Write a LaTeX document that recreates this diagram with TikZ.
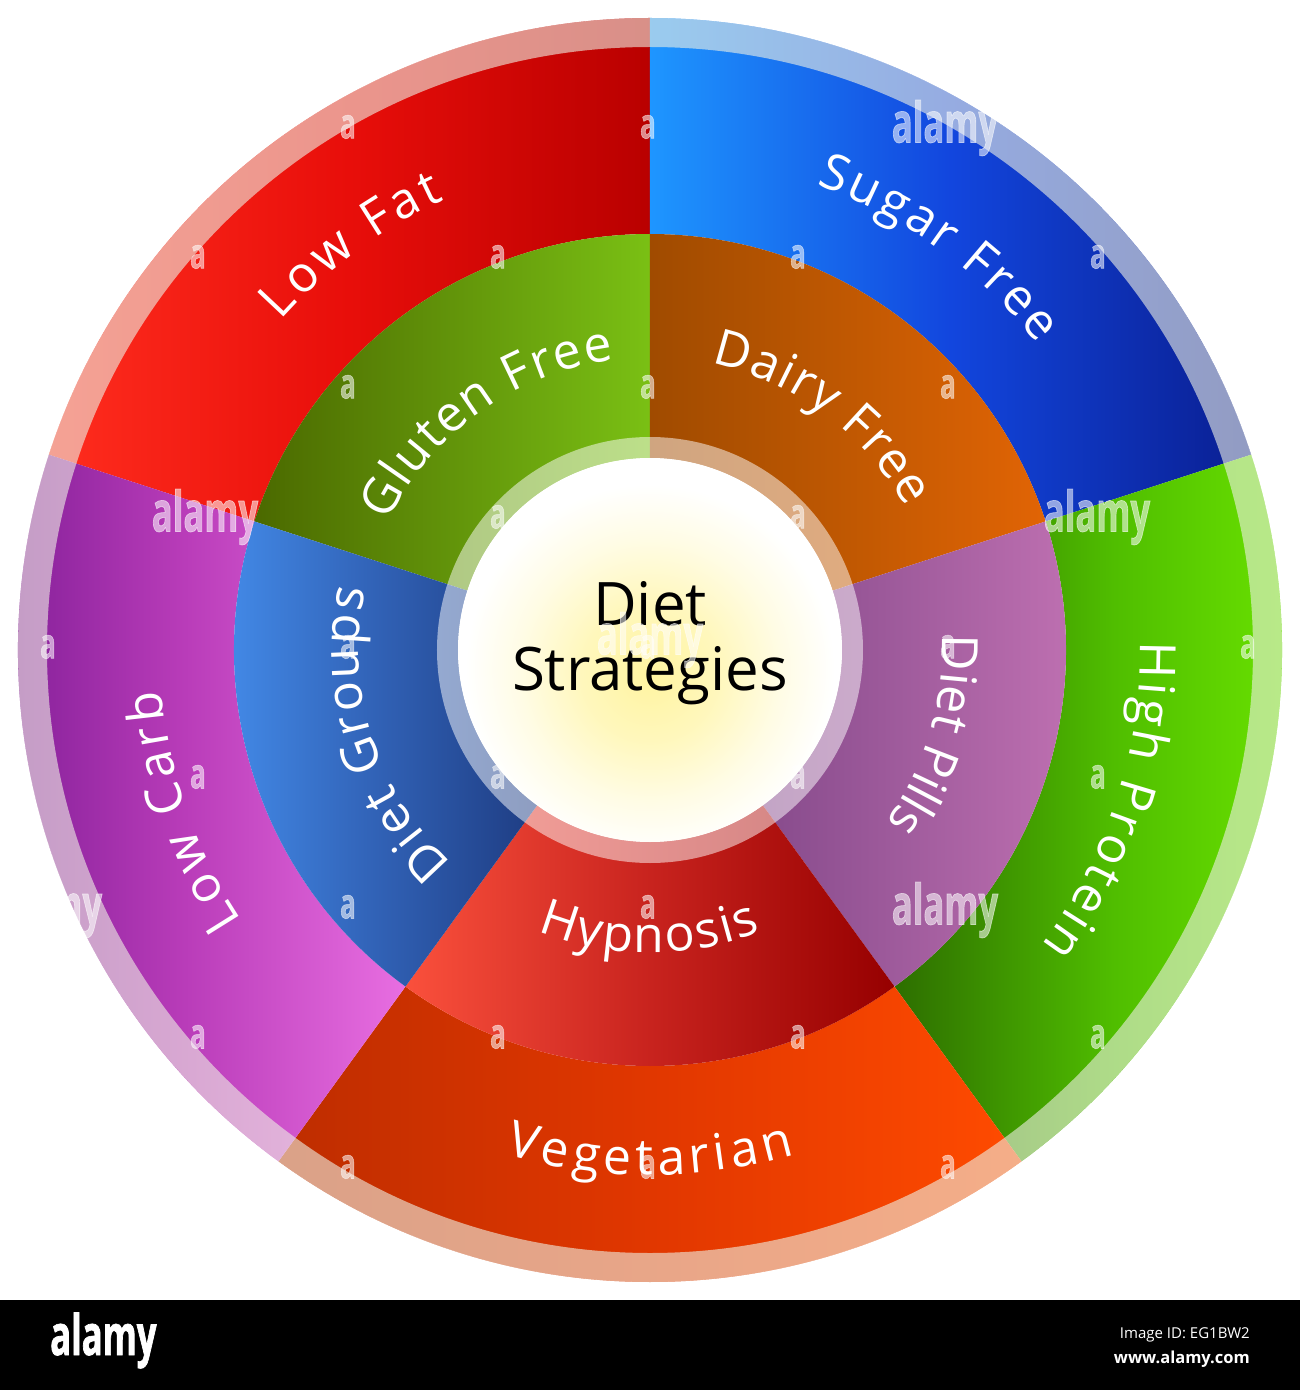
\documentclass[tikz,border=0pt]{standalone}
\usepackage{fontspec}
\usetikzlibrary{decorations.text}
\setmainfont{Open Sans}
\newfontfamily\wmfont[FakeStretch=0.62,FakeBold=1.2]{Open Sans Bold}
\definecolor{yc}{RGB}{255,244,160}
\definecolor{rimc}{RGB}{238,240,228}
\pgfdeclareradialshading{centerglow}{\pgfpoint{0bp}{-3.2bp}}{
  color(0bp)=(yc);
  color(9bp)=(yc!70!white);
  color(17bp)=(yc!28!white);
  color(24bp)=(white);
  color(100bp)=(white)}
\newcommand\sector[5]{\shade[#1] (#2:#5) arc[start angle=#2,end angle=#3,radius=#5] -- (#3:#4) arc[start angle=#3,end angle=#2,radius=#4] -- cycle;}
\newcommand\bent[5]{\path[decorate,decoration={text along path,text={|\color{white}\fontsize{#1}{#1}\selectfont|#5},text align={fit to path}}] (#2:#4) arc[start angle=#2,end angle=#3,radius=#4];}
\tikzset{
  grad/.style args={#1/#2/#3}{left color=#1,right color=#3,middle color=#2},
  wm big/.style={text=white,opacity=.55,font=\wmfont\fontsize{56}{60}\selectfont,inner sep=0pt},
  wm small/.style={text=white,opacity=.55,font=\wmfont\fontsize{42}{44}\selectfont,inner sep=0pt},
  foot/.style={text=white,inner sep=0pt,anchor=base east},
}
\definecolor{lfa}{RGB}{255,45,30}\definecolor{lfb}{RGB}{232,14,10}\definecolor{lfc}{RGB}{185,0,0}
\definecolor{sfa}{RGB}{30,150,255}\definecolor{sfb}{RGB}{18,70,222}\definecolor{sfc}{RGB}{10,30,145}
\definecolor{hpa}{RGB}{45,110,0}\definecolor{hpb}{RGB}{80,190,0}\definecolor{hpc}{RGB}{112,235,0}
\definecolor{vga}{RGB}{190,45,0}\definecolor{vgb}{RGB}{225,55,0}\definecolor{vgc}{RGB}{255,75,0}
\definecolor{lca}{RGB}{120,25,145}\definecolor{lcb}{RGB}{185,60,185}\definecolor{lcc}{RGB}{232,110,225}
\definecolor{gfa}{RGB}{75,105,0}\definecolor{gfb}{RGB}{98,148,10}\definecolor{gfc}{RGB}{122,192,20}
\definecolor{dfa}{RGB}{160,75,0}\definecolor{dfb}{RGB}{192,88,2}\definecolor{dfc}{RGB}{225,100,5}
\definecolor{dpa}{RGB}{135,75,140}\definecolor{dpb}{RGB}{165,95,160}\definecolor{dpc}{RGB}{195,115,180}
\definecolor{hya}{RGB}{250,80,60}\definecolor{hyb}{RGB}{200,35,30}\definecolor{hyc}{RGB}{150,0,0}
\definecolor{dga}{RGB}{70,145,240}\definecolor{dgb}{RGB}{50,100,185}\definecolor{dgc}{RGB}{30,60,130}
\begin{document}
\begin{tikzpicture}[x=1pt,y=1pt]
\useasboundingbox (-650,650) rectangle (650,-740);
% outer ring
\sector{grad=lfa/lfb/lfc}{162}{90}{416}{632}
\sector{grad=sfa/sfb/sfc}{90}{18}{416}{632}
\sector{grad=hpa/hpb/hpc}{18}{-54}{416}{632}
\sector{grad=vga/vgb/vgc}{-54}{-126}{416}{632}
\sector{grad=lca/lcb/lcc}{-126}{-198}{416}{632}
% inner ring
\sector{grad=gfa/gfb/gfc}{162}{90}{192}{416}
\sector{grad=dfa/dfb/dfc}{90}{18}{192}{416}
\sector{grad=dpa/dpb/dpc}{18}{-54}{192}{416}
\sector{grad=hya/hyb/hyc}{-54}{-126}{192}{416}
\sector{grad=dga/dgb/dgc}{-126}{-198}{192}{416}
% translucent rims
\fill[rimc,opacity=.6,even odd rule] (0,0) circle[radius=632] (0,0) circle[radius=603];
\fill[white,opacity=.5,even odd rule] (0,0) circle[radius=213] (0,0) circle[radius=192];
% centre disc
\shade[shading=centerglow] (0,0) circle[radius=192];
\node[align=center,text=black,inner sep=0pt,font=\fontsize{60}{65}\selectfont] (title) at (0,7) {Diet\\Strategies};
% curved labels
\bent{50}{138.3}{114.6}{495}{Low Fat}
\bent{50}{70.3}{38.3}{494}{Sugar Free}
\bent{50}{1}{-37}{490}{High Protein}
\bent{50}{254}{286}{525}{Vegetarian}
\bent{50}{213.5}{184.7}{490}{Low Carb}
\bent{50}{154}{97}{292}{Gluten Free}
\bent{50}{78}{29}{293}{Dairy Free}
\bent{50}{3}{-35.5}{292}{Diet Pills}
\bent{50}{227}{168}{291}{Diet Groups}
\bent{50}{248.2}{291.5}{303}{Hypnosis}
% watermark
\foreach \mx/\my [count=\i] in {945/128,205/517,1097/517,650/640,945/910,49/910}
  \node[wm big] (bigmark\i) at (\mx-650,650-\my) {alamy};
\foreach \mx/\my [count=\i] in {348/127,648/127,198/257,498/257,798/257,1098/257,348/387,648/387,948/387,498/517,798/517,48/647,348/647,648/647,948/647,1248/647,198/777,498/777,798/777,1098/777,348/907,648/907,198/1037,498/1037,798/1037,1098/1037,348/1167,648/1167,948/1167}
  \node[wm small] (smallmark\i) at (\mx-650,650-\my) {a};
% footer bar
\fill[black] (-650,-650) rectangle (650,-740);
\node[text=white,inner sep=0pt,anchor=base west,font=\wmfont\fontsize{56}{60}\selectfont] (footlogo) at (-600,-705) {alamy};
\node[foot,font=\fontsize{15}{18}\selectfont] (footid) at (600,-688) {Image ID: EG1BW2};
\node[foot,font=\bfseries\fontsize{16.5}{19}\selectfont] (footurl) at (600,-713) {www.alamy.com};
\end{tikzpicture}
\end{document}
